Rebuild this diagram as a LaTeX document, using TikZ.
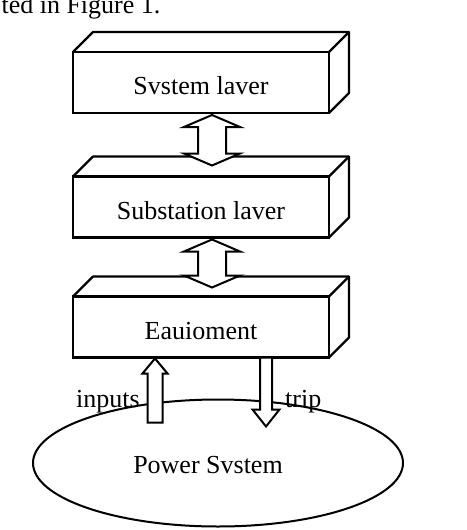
\documentclass[tikz,border=0pt]{standalone}
\usepackage{fontspec}
\setmainfont{Liberation Serif}
\usetikzlibrary{calc,shapes.geometric}

\tikzset{
  layer/.style={draw, line width=2.2pt, minimum width=256pt, minimum height=61pt,
    inner sep=0pt, outer sep=0pt, text height=24pt, text depth=0pt},
  face/.style={line width=2.2pt, line join=round},
  blk/.style={draw, fill=white, line width=2pt},
}
% double headed block arrow, tips #1 (top) and #2 (bottom)
\newcommand{\dblarrow}[2]{
  \draw[blk] (#1) -- ($(#1)+(28,12)$) -- ($(#1)+(14,12)$) -- ($(#2)+(14,-12)$)
    -- ($(#2)+(28,-12)$) -- (#2) -- ($(#2)+(-28,-12)$) -- ($(#2)+(-14,-12)$)
    -- ($(#1)+(-14,12)$) -- ($(#1)+(-28,12)$) -- cycle;
}
% single block arrow: tip, tail, shaft half width, head half width, head length
\newcommand{\onearrow}[5]{
  \draw[blk] (#1) -- ($(#1)+(#4,#5)$) -- ($(#1)+(#3,#5)$) -- ($(#2)+(#3,0)$)
    -- ($(#2)+(-#3,0)$) -- ($(#1)+(-#3,#5)$) -- ($(#1)+(-#4,#5)$) -- cycle;
}

\begin{document}
\begin{tikzpicture}[x={(1pt,0pt)},y={(0pt,-1pt)}, every node/.style={font=\fontsize{26}{30}\selectfont}]
        \useasboundingbox (0,0) rectangle (466,530);
        \clip (0,0) rectangle (466,530);
        \node[anchor=base west] (cap) at (-2,13) {ted in Figure 1.};
        \foreach \n/\c/\t in {sys/82.5/Svstem laver, sub/207/Substation laver, equ/327/Eauioment}
        { \node[layer] (\n) at (201,\c) {\t};
          \draw[face] (\n.north west) -- ++(20,-20) -- ++(256,0) -- ($(\n.south east)+(20,-20)$) -- (\n.south east);
          \draw[face] (\n.north east) -- ++(20,-20);
        }
        \coordinate (a1) at ($(sys.south)+(11,2)$);
        \coordinate (b1) at ($(sub.north)+(11,-11)$);
        \coordinate (a2) at ($(sub.south)+(11,2)$);
        \coordinate (b2) at ($(equ.north)+(11,-9)$);
        \dblarrow{a1}{b1}
        \dblarrow{a2}{b2}
        \node[draw, ellipse, line width=2pt, minimum width=370pt, minimum height=127pt, inner sep=0pt, outer sep=0pt] (ps) at (218,463) {};
        \node (pst) at ($(ps.center)+(-10,2)$) {Power Svstem};
        \coordinate (inT) at ($(equ.south)+(-46,1)$);
        \coordinate (inB) at ($(ps.north)+(-63,23)$);
        \coordinate (trT) at ($(equ.south)+(65,0)$);
        \coordinate (trB) at ($(ps.north)+(48,27)$);
        \onearrow{inT}{inB}{7.5}{12.5}{15}
        \onearrow{trB}{trT}{6}{13.5}{-17}
        \node[anchor=base east, inner sep=0pt] (inl) at ($(inB)+(-15,-15)$) {inputs};
        \node[anchor=base west, inner sep=0pt] (trl) at ($(trB)+(19,-19)$) {trip};
\end{tikzpicture}
\end{document}
